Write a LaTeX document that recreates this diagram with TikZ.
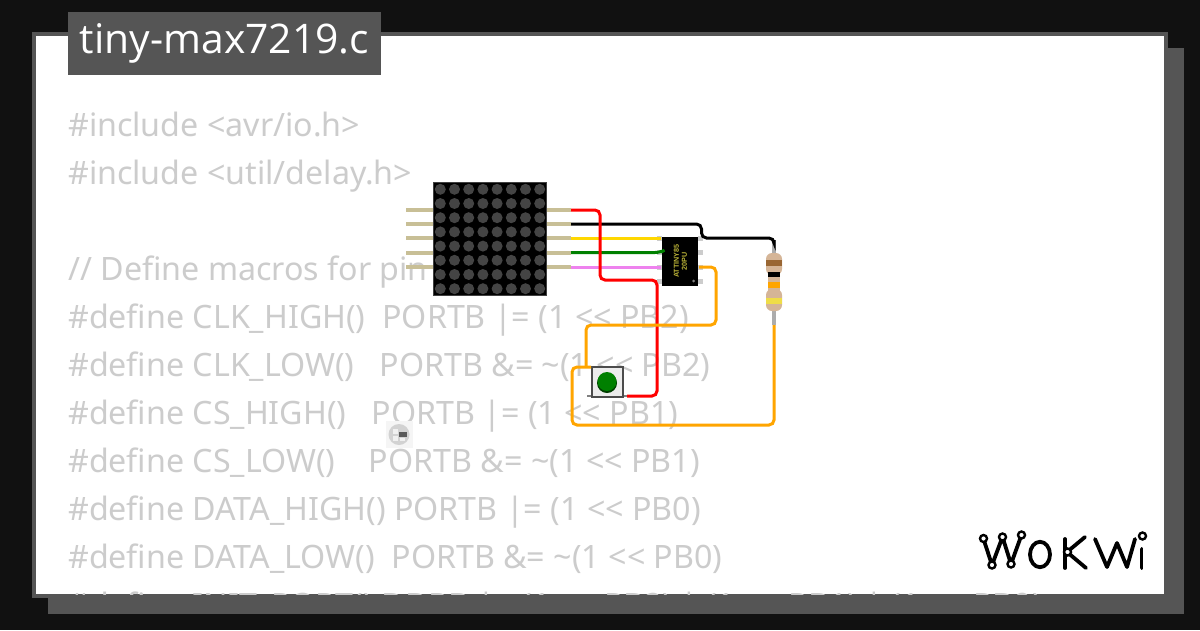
\documentclass[tikz,border=0pt]{standalone}
\usepackage{fontspec}
\setmainfont{Noto Sans}[Ligatures=TeXOff]
\newfontfamily\titlefont{Open Sans}
\newfontfamily\chipfont{Liberation Sans}
\definecolor{pagedark}{HTML}{111111}
\definecolor{framegray}{HTML}{555555}
\definecolor{codegray}{HTML}{CCCCCC}
\definecolor{pintan}{HTML}{C8BF96}
\definecolor{ledgray}{HTML}{444444}
\definecolor{wireorange}{HTML}{FFA500}
\definecolor{wirepink}{HTML}{EE82EE}
\definecolor{wiregreen}{HTML}{008000}
\definecolor{wireyellow}{HTML}{FFD700}
\definecolor{bodytan}{HTML}{D5B597}
\tikzset{
  codetext/.style={anchor=base west,inner sep=0,text=codegray,font=\fontsize{32.2}{32}\selectfont},
  wire/.style={line width=3pt,rounded corners=5pt},
  pinlead/.style={line width=4pt,pintan},
  chippin/.style={line width=5pt,gray!40},
  reslead/.style={line width=4pt,gray!65},
  resband/.style={line width=5.5pt},
  logostroke/.style={line width=3.8pt,line cap=round,line join=round},
  logoring/.style={circle,draw=black,line width=2.4pt,fill=white,inner sep=0,minimum size=7pt}
}
\begin{document}
\begin{tikzpicture}[x=1pt,y=-1pt]
\useasboundingbox (0,0) rectangle (1200,630);

% page and frame
\fill[pagedark] (0,0) rectangle (1200,630);
\fill[framegray] (48,48) rectangle (1184,614);
\fill[framegray] (32,32) rectangle (1168,598);
\fill[white] (36,36) rectangle (1164,594);

% code behind the circuit
\scope
\clip (36,36) rectangle (1164,594);
\node (line1) [codetext] at (68,136) {\#include <avr/io.h>};
\node (line2) [codetext] at (68,184) {\#include <util/delay.h>};
\node (line3) [codetext] at (68,280) {// Define macros for pin};
\node (line4) [codetext] at (68,328) {\#define CLK\_HIGH()~~PORTB |= (1 << PB2)};
\node (line5) [codetext] at (68,376) {\#define CLK\_LOW()~~~PORTB \&= \textasciitilde(1 << PB2)};
\node (line6) [codetext] at (68,424) {\#define CS\_HIGH()~~~PORTB |= (1 << PB1)};
\node (line7) [codetext] at (68,472) {\#define CS\_LOW()~~~~PORTB \&= \textasciitilde(1 << PB1)};
\node (line8) [codetext] at (68,520) {\#define DATA\_HIGH() PORTB |= (1 << PB0)};
\node (line9) [codetext] at (68,568) {\#define DATA\_LOW()~~PORTB \&= \textasciitilde(1 << PB0)};
\node (line10) [codetext] at (68,616) {\#define INIT\_PORT() DDRB |= (1 << PB2) | (1 << PB1) | (1 << PB0)};
\endscope

% title tab
\fill[framegray] (68,12) rectangle (381,75);
\node (title) [text=white,font=\titlefont\fontsize{40.8}{41}\selectfont,inner sep=0] at (224.5,43) {tiny-max7219.c};

% matrix
\foreach \i/\y in {1/210,2/224,3/238,4/252.5,5/267} {
  \coordinate (ml\i) at (433,\y);
  \coordinate (mr\i) at (571,\y);
  \draw[pinlead] (406,\y) -- (ml\i);
  \draw[pinlead] (546,\y) -- (mr\i);
}
\node (matrix) [fill=black,draw=black!75,line width=0.5pt,minimum size=113pt,inner sep=0] at (489.5,238.5) {};
\foreach \c in {0,...,7}
  \foreach \r in {0,...,7}
    \fill[ledgray] (440.3+14.2*\c,189.3+14.2*\r) circle (5.5);

% chip
\foreach \i/\y in {1/238,2/252,3/267,4/281} {
  \coordinate (cl\i) at (661,\y);
  \coordinate (cr\i) at (699,\y);
  \draw[chippin] (657,\y) -- (662,\y);
  \draw[chippin] (698,\y) -- (703,\y);
}
\node (chip) [fill=black,minimum width=36pt,minimum height=49pt,inner sep=0] at (680,261.5) {};
\node (chiptext) [rotate=90,align=center,text=yellow!70!black,inner sep=0,font=\chipfont\bfseries\fontsize{7.2}{8}\selectfont] at (680.5,261) {ATTINY85\\20PU};
\fill[gray] (693.5,281) circle (1.5);

% resistor
\coordinate (rtop) at (774,240);
\coordinate (rbot) at (774,325);
\draw[reslead] (rtop) -- (rbot);
\node (restop) [fill=bodytan,rounded corners=6pt,minimum width=16pt,minimum height=22pt,inner sep=0] at (774,264) {};
\node (resbot) [fill=bodytan,rounded corners=6pt,minimum width=16pt,minimum height=22pt,inner sep=0] at (774,300) {};
\node (resmid) [fill=bodytan,minimum width=12pt,minimum height=26pt,inner sep=0] at (774,282) {};
\draw[resband,brown!80!black] (766,263) -- (782,263);
\draw[resband,black] (768,274.5) -- (780,274.5);
\draw[resband,wireorange] (768,285) -- (780,285);
\draw[resband,yellow!60!bodytan] (766,301) -- (782,301);

% button
\coordinate (bl1) at (587,367);
\coordinate (bl2) at (587,396);
\coordinate (br2) at (627,396);
\draw[line width=1.5pt,gray] (bl2) -- (br2);
\node (button) [fill=gray!15,draw=black!70,line width=2pt,minimum width=31pt,minimum height=30pt,inner sep=0] at (607,381.5) {};
\fill[black!60!green!60!black] (607,383) circle (10);
\fill[wiregreen] (607,381.5) circle (9.5);

% led
\node (led) [fill=gray!8,minimum size=27pt,inner sep=0] at (399,434.5) {};
\fill[gray!35] (399,434.5) circle (10.5);
\fill[gray!12] (393,428.5) rectangle (398,433.5);
\fill[gray!12] (393,435.5) rectangle (398,441);
\fill[gray!12] (399.5,437.5) rectangle (405,441);
\fill[black!65] (399,432) rectangle (407,436.5);

% wires
\draw[wire,black] (mr2) -- (701.5,224) -- (701.5,238) -- (774,238) -- (rtop);
\draw[wire,wireyellow] (mr3) -- (cl1);
\draw[wire,wiregreen] (mr4) -- (660,252.5) -- (cl2);
\draw[wire,wirepink] (mr5) -- (cl3);
\draw[wire,red] (mr1) -- (600,210) -- (600,280) -- (657,280) -- (657,396) -- (br2);
\draw[wire,wireorange] (cr3) -- (716,267) -- (716,325) -- (586,325) -- (586,367);
\draw[wire,wireorange] (rbot) -- (774,425) -- (572,425) -- (572,367) -- (591,367);

% logo
\draw[logostroke] (983.5,539) -- (992,565) -- (1002.5,537) -- (1011,564) -- (1021.5,535);
\draw[logostroke] (1040,554.5) ellipse (10 and 12.7);
\draw[logostroke] (1065,539) -- (1065,568);
\draw[logostroke] (1085,537) -- (1067,552) -- (1086,568);
\draw[logostroke] (1095,539) -- (1107,567) -- (1117,543) -- (1127,567) -- (1135,539);
\draw[logostroke] (1141.5,549) -- (1141.5,568);
\node (ring1) [logoring] at (983.5,538.5) {};
\node (ring2) [logoring] at (992,565) {};
\node (ring3) [logoring] at (1002.5,537) {};
\node (ring4) [logoring] at (1011,564) {};
\node (ring5) [logoring] at (1021.5,535) {};
\node (ring6) [logoring] at (1067.5,552) {};
\node (ring7) [logoring] at (1142.5,536) {};
\end{tikzpicture}
\end{document}
